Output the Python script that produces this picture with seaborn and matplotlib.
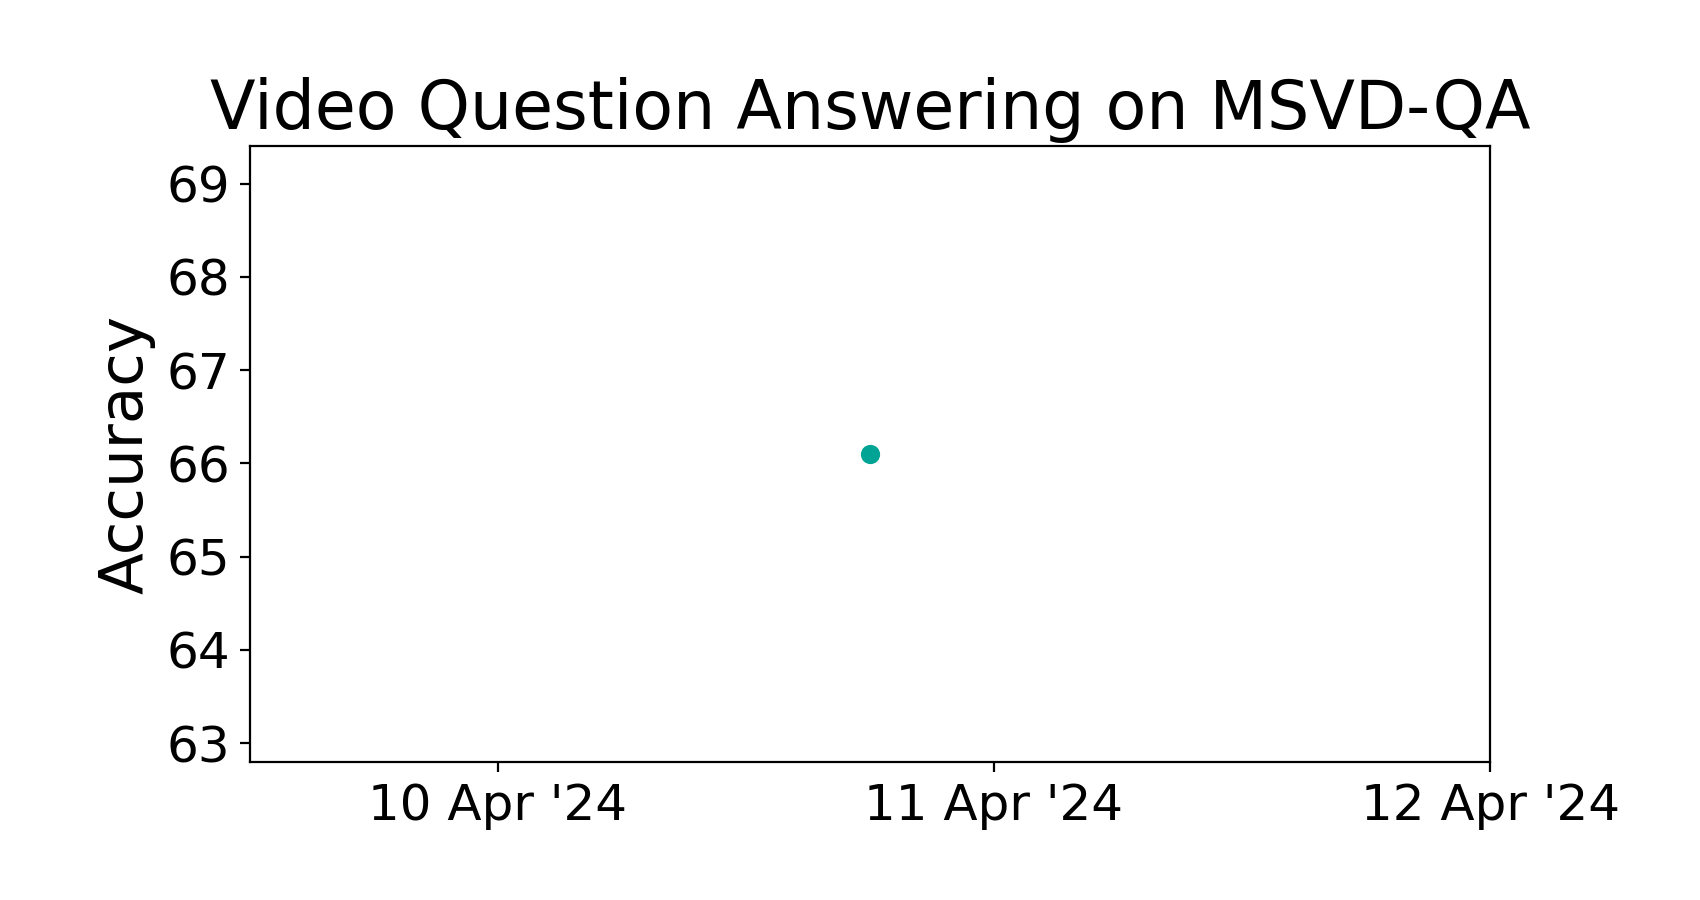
import pandas as pd
import matplotlib
matplotlib.use("Agg")
import matplotlib.pyplot as plt
import matplotlib.dates as mdates
from matplotlib.ticker import MultipleLocator
import seaborn as sns

# --- data ---
dates = ["2024-04-10 18:00"]
models = ["model"]
accuracy = [66.1]

df = pd.DataFrame({"date": pd.to_datetime(dates), "model": models, "accuracy": accuracy})

sns.set_style("ticks", {"axes.edgecolor": "black", "xtick.color": "black",
                        "ytick.color": "black", "text.color": "black",
                        "axes.labelcolor": "black"})
plt.rcParams["font.family"] = ["DejaVu Sans"]

fig = plt.figure(figsize=(8.5, 4.5), dpi=200)
ax = fig.add_axes([0.147, 0.153, 0.7295, 0.685])

sns.scatterplot(data=df, x="date", y="accuracy", color="#00a394", s=48,
                linewidth=0, legend=False, ax=ax)

# centre the single point, +/-5% on y
mid = df["date"].iloc[0]
ax.set_xlim(mid - pd.Timedelta(hours=30), mid + pd.Timedelta(hours=30))
ax.set_ylim(df["accuracy"].min() * 0.95, df["accuracy"].max() * 1.05)

ax.xaxis.set_major_locator(mdates.DayLocator())
ax.xaxis.set_major_formatter(mdates.DateFormatter("%d %b '%y"))
ax.yaxis.set_major_locator(MultipleLocator(1))

ax.set_title("Video Question Answering on MSVD-QA", fontsize=24)
ax.set_xlabel("")
ax.set_ylabel("Accuracy", fontsize=22)
ax.tick_params(axis="both", labelsize=18, length=3.5, width=0.8)
for sp in ax.spines.values():
    sp.set_linewidth(0.8)

fig.savefig("out.png", dpi=200)
